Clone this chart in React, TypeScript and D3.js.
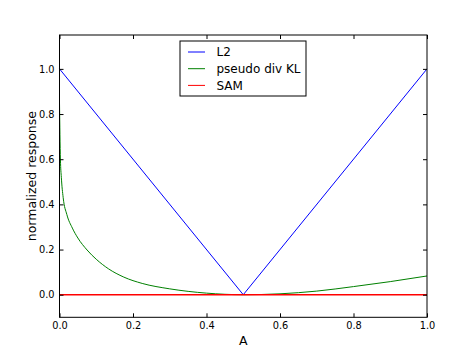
import { useEffect, useRef } from "react";
import * as d3 from "d3";

type Pt = [number, number];

const L2_X = [0, 0.5, 1];
const L2_Y = [1, 0, 1];

const KL_X = [0.0, 0.0025, 0.005, 0.01, 0.02, 0.035, 0.05, 0.075, 0.1, 0.133, 0.175, 0.225, 0.3, 0.4, 0.5, 0.6, 0.7, 0.8, 0.9, 1.0];
const KL_Y = [0.85, 0.6, 0.52, 0.43, 0.355, 0.295, 0.251, 0.198, 0.157, 0.115, 0.078, 0.05, 0.026, 0.007, 0, 0.004, 0.016, 0.036, 0.058, 0.083];

const SAM_X = [0, 1];
const SAM_Y = [0, 0];

const SERIES = ["L2", "pseudo div KL", "SAM"];
const COLORS = ["#0000ff", "#008000", "#ff0000"];

const X_TICKS = [0, 0.2, 0.4, 0.6, 0.8, 1.0];
const Y_TICKS = [0, 0.2, 0.4, 0.6, 0.8, 1.0];

const zip = (xs: number[], ys: number[]): Pt[] => xs.map((x, i) => [x, ys[i]]);

export default function App() {
  const ref = useRef<SVGSVGElement>(null);

  useEffect(() => {
    if (!ref.current) return;
    const width = 474;
    const height = 353;
    const left = 59.5;
    const right = 427;
    const top = 35;
    const bottom = 317.3;

    const svg = d3.select(ref.current);
    svg.selectAll("*").remove();
    svg.attr("width", width).attr("height", height);

    const x = d3.scaleLinear().domain([0, 1]).range([left, right]);
    const y = d3.scaleLinear().domain([-0.1, 1.15]).range([bottom, top]);

    svg.append("rect").attr("width", width).attr("height", height).attr("fill", "#fff");

    const line = d3
      .line<Pt>()
      .x((d) => x(d[0]))
      .y((d) => y(d[1]));
    const smooth = d3
      .line<Pt>()
      .x((d) => x(d[0]))
      .y((d) => y(d[1]))
      .curve(d3.curveMonotoneX);

    const plot = svg.append("g");
    const data = [zip(L2_X, L2_Y), zip(KL_X, KL_Y), zip(SAM_X, SAM_Y)];
    data.forEach((d, i) => {
      plot
        .append("path")
        .attr("d", i === 1 ? smooth(d) : line(d))
        .attr("fill", "none")
        .attr("stroke", COLORS[i])
        .attr("stroke-width", i === 2 ? 1.6 : 1);
    });

    const font = "DejaVu Sans, sans-serif";
    const fmt = d3.format(".1f");

    const axes: [any, string][] = [
      [d3.axisBottom(x).tickValues(X_TICKS).tickFormat((d) => fmt(d as number)), `translate(0,${bottom})`],
      [d3.axisTop(x).tickValues(X_TICKS).tickFormat(() => ""), `translate(0,${top})`],
      [d3.axisLeft(y).tickValues(Y_TICKS).tickFormat((d) => fmt(d as number)), `translate(${left},0)`],
      [d3.axisRight(y).tickValues(Y_TICKS).tickFormat(() => ""), `translate(${right},0)`],
    ];
    axes.forEach(([ax, tr]) => {
      const g = svg
        .append("g")
        .attr("transform", tr)
        .call(ax.tickSizeInner(-4).tickSizeOuter(0).tickPadding(5));
      g.select(".domain").remove();
      g.selectAll("line").attr("stroke", "#000");
      g.selectAll("text").attr("font-family", font).attr("font-size", 9.8).attr("fill", "#000");
    });

    svg
      .append("rect")
      .attr("x", left)
      .attr("y", top)
      .attr("width", right - left)
      .attr("height", bottom - top)
      .attr("fill", "none")
      .attr("stroke", "#000")
      .attr("stroke-width", 1);

    svg
      .append("text")
      .attr("x", (left + right) / 2)
      .attr("y", 345)
      .attr("text-anchor", "middle")
      .attr("font-family", font)
      .attr("font-size", 12.5)
      .text("A");

    svg
      .append("text")
      .attr("transform", `translate(36,${(top + bottom) / 2}) rotate(-90)`)
      .attr("text-anchor", "middle")
      .attr("font-family", font)
      .attr("font-size", 12.5)
      .text("normalized response");

    const lg = svg.append("g").attr("transform", "translate(180,41)");
    lg.append("rect")
      .attr("width", 126)
      .attr("height", 55)
      .attr("fill", "#fff")
      .attr("stroke", "#000")
      .attr("stroke-width", 1);
    SERIES.forEach((name, i) => {
      const cy = 11 + i * 16.7;
      lg.append("line")
        .attr("x1", 8)
        .attr("x2", 25)
        .attr("y1", cy)
        .attr("y2", cy)
        .attr("stroke", COLORS[i])
        .attr("stroke-width", 1);
      lg.append("text")
        .attr("x", 36.5)
        .attr("y", cy + 4.3)
        .attr("font-family", font)
        .attr("font-size", 12)
        .text(name);
    });
  }, []);

  return <svg ref={ref} style={{ position: "absolute", left: 0, top: 0 }} />;
}
